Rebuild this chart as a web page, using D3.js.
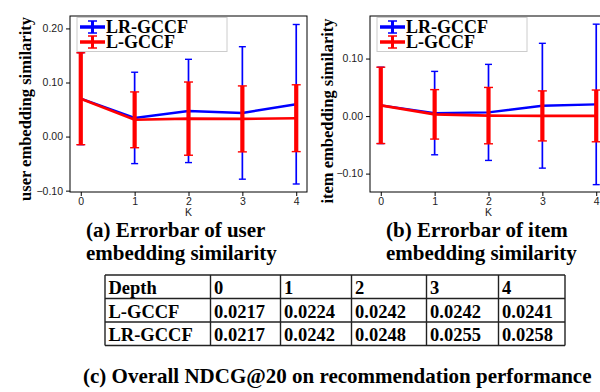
<!DOCTYPE html>
<html>
<head>
<meta charset="utf-8">
<script src="https://cdn.jsdelivr.net/npm/d3@7"></script>
<style>
  body { margin: 0; background: #fff; }
  svg { display: block; }
</style>
</head>
<body>
<div id="chart"></div>
<script>
const depths = [0, 1, 2, 3, 4];
const seriesNames = ["LR-GCCF", "L-GCCF"];

// (a) user embedding similarity : mean and std per K
const userLrMean = [0.070, 0.0345, 0.0474, 0.0437, 0.0598];
const userLrStd  = [0.085, 0.0845, 0.0955, 0.1225, 0.1475];
const userLMean  = [0.070, 0.0310, 0.0332, 0.0327, 0.0340];
const userLStd   = [0.085, 0.0516, 0.0677, 0.0610, 0.0618];

// (b) item embedding similarity
const itemLrMean = [0.0186, 0.0052, 0.0064, 0.0180, 0.0203];
const itemLrStd  = [0.0664, 0.0725, 0.0835, 0.1085, 0.1395];
const itemLMean  = [0.0186, 0.0030, 0.0008, 0.0003, 0.0003];
const itemLStd   = [0.0664, 0.0430, 0.0490, 0.0435, 0.0450];

const userTicks = [-0.1, 0, 0.1, 0.2];
const itemTicks = [-0.1, 0, 0.1];

// (c) table
const tableHeader = ["Depth", "0", "1", "2", "3", "4"];
const tableLGccf  = ["L-GCCF", "0.0217", "0.0224", "0.0242", "0.0242", "0.0241"];
const tableLrGccf = ["LR-GCCF", "0.0217", "0.0242", "0.0248", "0.0255", "0.0258"];

const width = 600, height = 392;
const serif = "'Liberation Serif', 'Times New Roman', serif";
const sans = "'Liberation Sans', Arial, sans-serif";
const fmt = v => d3.format(".2f")(v).replace("-", "\u2212");

const svg = d3.select("#chart").append("svg")
  .attr("width", width).attr("height", height);

function drawPanel(opts) {
  const x = d3.scaleLinear().domain([-0.2, 4.2]).range([opts.left, opts.right]);
  const y = d3.scaleLinear().domain(opts.yDomain).range([192, 16]);
  const g = svg.append("g");

  // axes
  g.append("g")
    .attr("transform", "translate(0,192)")
    .call(d3.axisBottom(x).tickValues(depths).tickSize(4).tickSizeOuter(0).tickFormat(d3.format("d")))
    .call(a => a.select(".domain").remove())
    .call(a => a.selectAll("text").attr("font-family", sans).attr("font-size", 10.5).attr("fill", "#222").attr("dy", "0.6em"));
  g.append("g")
    .attr("transform", "translate(" + opts.left + ",0)")
    .call(d3.axisLeft(y).tickValues(opts.ticks).tickSize(4).tickSizeOuter(0).tickFormat(fmt))
    .call(a => a.select(".domain").remove())
    .call(a => a.selectAll("text").attr("font-family", sans).attr("font-size", 10.5).attr("fill", "#222"));

  const series = [
    {mean: opts.lrMean, std: opts.lrStd, color: "#0000ff", ew: 1.7, cap: 7, lw: 2.4},
    {mean: opts.lMean,  std: opts.lStd,  color: "#ff0000", ew: 4.2, cap: 9, lw: 2.6}
  ];
  const clip = "clip" + opts.id;
  svg.append("clipPath").attr("id", clip).append("rect")
    .attr("x", opts.left).attr("y", 16).attr("width", opts.right - opts.left).attr("height", 176);
  const plot = g.append("g").attr("clip-path", "url(#" + clip + ")");

  series.forEach(s => {
    const pts = depths.map((k, i) => ({k, m: s.mean[i], sd: s.std[i]}));
    plot.append("path")
      .attr("fill", "none").attr("stroke", s.color).attr("stroke-width", s.lw)
      .attr("d", d3.line().x(d => x(d.k)).y(d => y(d.m))(pts));
    const eb = plot.append("g").attr("stroke", s.color);
    eb.selectAll("line.v").data(pts).join("line").attr("class", "v")
      .attr("x1", d => x(d.k)).attr("x2", d => x(d.k))
      .attr("y1", d => y(d.m - d.sd)).attr("y2", d => y(d.m + d.sd))
      .attr("stroke-width", s.ew);
    ["top", "bot"].forEach(side => {
      eb.selectAll("line." + side).data(pts).join("line").attr("class", side)
        .attr("x1", d => x(d.k) - s.cap / 2).attr("x2", d => x(d.k) + s.cap / 2)
        .attr("y1", d => y(side == "top" ? d.m + d.sd : d.m - d.sd))
        .attr("y2", d => y(side == "top" ? d.m + d.sd : d.m - d.sd))
        .attr("stroke-width", 1.4);
    });
  });

  // frame
  g.append("rect").attr("x", opts.left).attr("y", 16)
    .attr("width", opts.right - opts.left).attr("height", 176)
    .attr("fill", "none").attr("stroke", "#000").attr("stroke-width", 1);

  // legend
  const lg = g.append("g").attr("transform", "translate(" + (opts.left + 7) + ",17.5)");
  lg.append("rect").attr("width", 150).attr("height", 34)
    .attr("fill", "#fff").attr("fill-opacity", 0.8).attr("stroke", "#ccc").attr("stroke-width", 1);
  series.forEach((s, i) => {
    const cy = 9.5 + i * 15;
    lg.append("line").attr("x1", 3).attr("x2", 28).attr("y1", cy).attr("y2", cy)
      .attr("stroke", s.color).attr("stroke-width", 3.5);
    lg.append("line").attr("x1", 15.5).attr("x2", 15.5).attr("y1", cy - 6).attr("y2", cy + 6)
      .attr("stroke", s.color).attr("stroke-width", 3);
    lg.append("line").attr("x1", 11).attr("x2", 20).attr("y1", cy - 6).attr("y2", cy - 6)
      .attr("stroke", s.color).attr("stroke-width", 1.5);
    lg.append("line").attr("x1", 11).attr("x2", 20).attr("y1", cy + 6).attr("y2", cy + 6)
      .attr("stroke", s.color).attr("stroke-width", 1.5);
    lg.append("text").attr("x", 29).attr("y", cy + 6)
      .attr("font-family", serif).attr("font-weight", "bold").attr("font-size", 18)
      .text(seriesNames[i]);
  });

  // axis titles
  g.append("text")
    .attr("transform", "translate(" + opts.labelX + "," + opts.labelY + ") rotate(-90)")
    .attr("text-anchor", "middle")
    .attr("font-family", serif).attr("font-weight", "bold").attr("font-size", 16.5)
    .text(opts.yLabel);
  g.append("text")
    .attr("x", x(2)).attr("y", 216).attr("text-anchor", "middle")
    .attr("font-family", sans).attr("font-size", 10.5).attr("fill", "#222")
    .text("K");
}

drawPanel({id: "a", left: 70, right: 307, yDomain: [-0.1025, 0.223], ticks: userTicks,
  lrMean: userLrMean, lrStd: userLrStd, lMean: userLMean, lStd: userLStd,
  yLabel: "user embedding similarity", labelX: 31, labelY: 109});
drawPanel({id: "b", left: 370, right: 607, yDomain: [-0.132, 0.174], ticks: itemTicks,
  lrMean: itemLrMean, lrStd: itemLrStd, lMean: itemLMean, lStd: itemLStd,
  yLabel: "item embedding similarity", labelX: 333, labelY: 111});

// captions
const cap = svg.append("g").attr("font-family", serif).attr("font-weight", "bold").attr("font-size", 21);
cap.append("text").attr("x", 86).attr("y", 237).text("(a) Errorbar of user");
cap.append("text").attr("x", 86).attr("y", 260).text("embedding similarity");
cap.append("text").attr("x", 386).attr("y", 237).text("(b) Errorbar of item");
cap.append("text").attr("x", 386).attr("y", 260).text("embedding similarity");
cap.append("text").attr("x", 83).attr("y", 383).text("(c) Overall NDCG@20 on recommendation performance");

// table
const colX = [105, 210.5, 280.5, 351.5, 426.5, 498.5, 565];
const rowY = [275, 298.5, 322, 345.5];
const rows = [tableHeader, tableLGccf, tableLrGccf];
const tg = svg.append("g");
tg.selectAll("line.h").data(rowY).join("line").attr("class", "h")
  .attr("x1", colX[0]).attr("x2", colX[colX.length - 1])
  .attr("y1", d => d).attr("y2", d => d)
  .attr("stroke", "#222").attr("stroke-width", 1.4);
tg.selectAll("line.c").data(colX).join("line").attr("class", "c")
  .attr("x1", d => d).attr("x2", d => d)
  .attr("y1", rowY[0]).attr("y2", rowY[rowY.length - 1])
  .attr("stroke", "#222").attr("stroke-width", 1.4);
rows.forEach((r, ri) => {
  tg.selectAll("text.r" + ri).data(r).join("text").attr("class", "r" + ri)
    .attr("x", (d, ci) => colX[ci] + 3.5)
    .attr("y", rowY[ri + 1] - 4.5)
    .attr("font-family", serif).attr("font-weight", "bold").attr("font-size", 18.5)
    .text(d => d);
});
</script>
</body>
</html>
